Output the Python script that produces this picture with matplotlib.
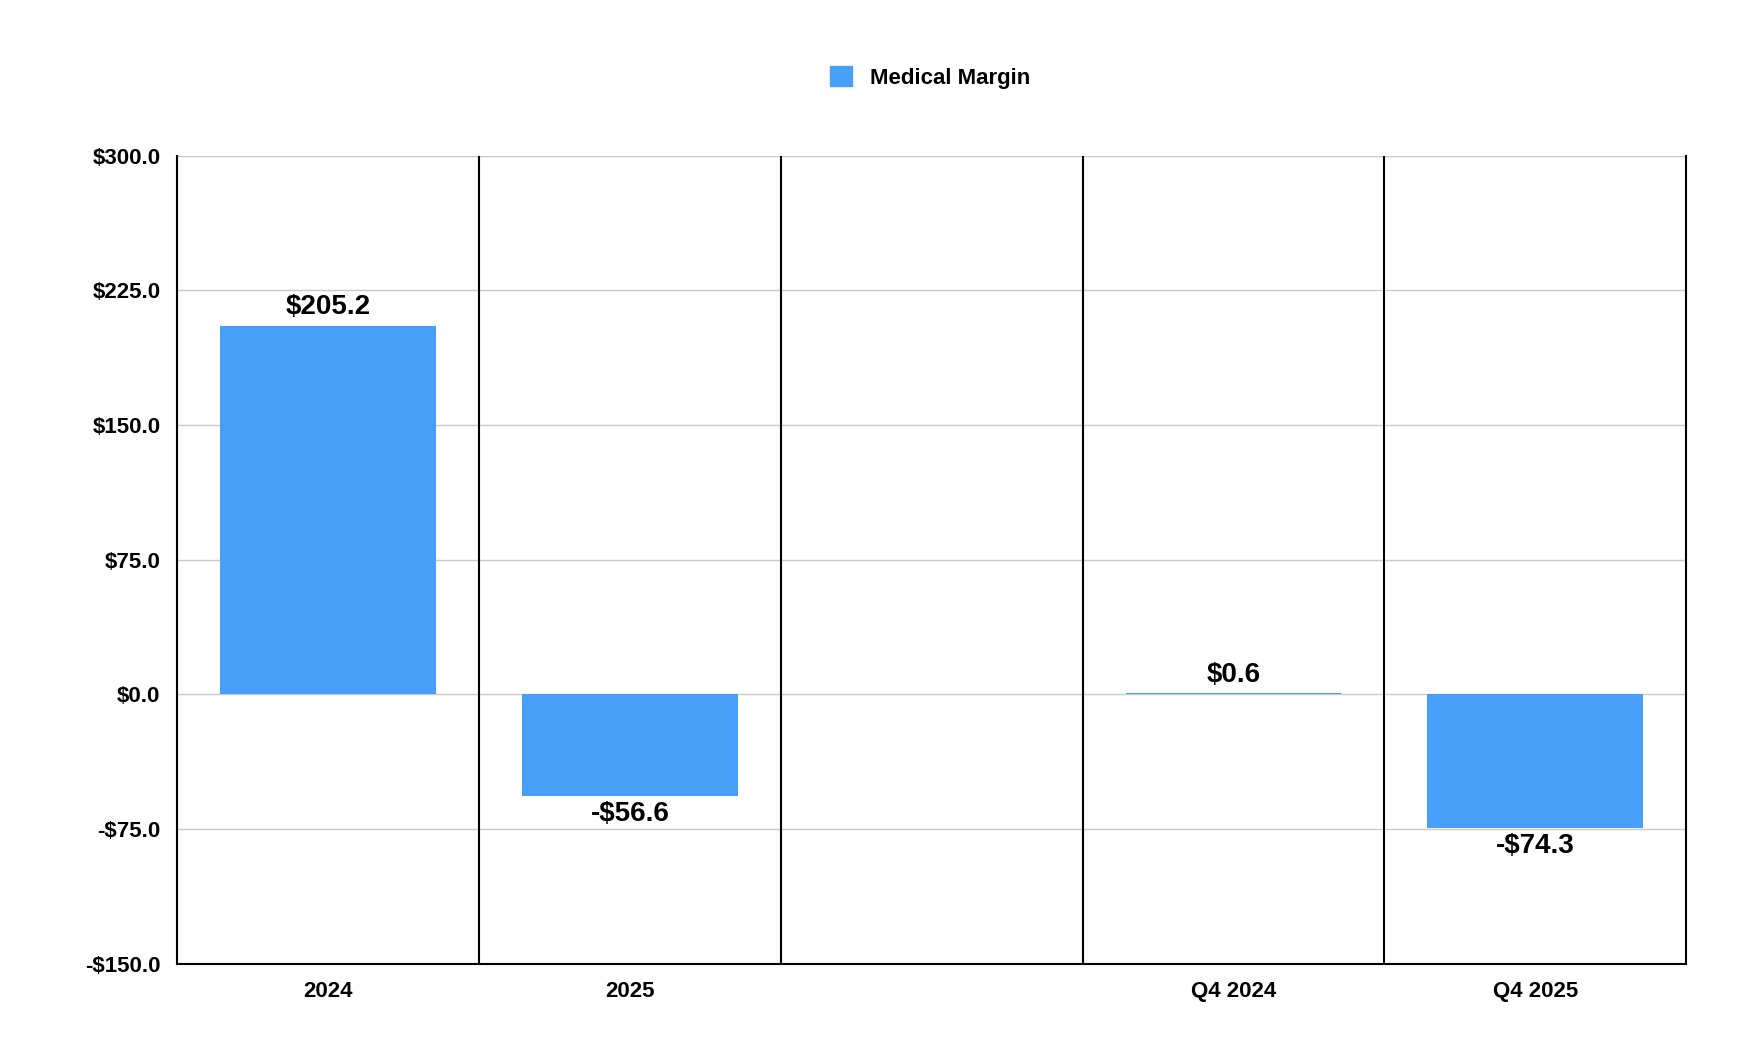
import matplotlib
matplotlib.use("Agg")
import matplotlib.pyplot as plt
import numpy as np

categories = ["2024", "2025", "", "Q4 2024", "Q4 2025"]
values = [205.2, -56.6, None, 0.6, -74.3]
labels = ["$205.2", "-$56.6", "", "$0.6", "-$74.3"]
yticks = [-150, -75, 0, 75, 150, 225, 300]
yticklabels = ["-$150.0", "-$75.0", "$0.0", "$75.0", "$150.0", "$225.0", "$300.0"]

plt.rcParams['font.family'] = ['Liberation Sans', 'DejaVu Sans']
plt.rcParams['font.weight'] = 'bold'
color = "#479ff8"

fig = plt.figure(figsize=(17.62, 10.58), dpi=100)
ax = fig.add_axes([0.1006, 0.089, 0.8564, 0.764])
x = np.arange(len(categories))
for i, v in enumerate(values):
    if v is None:
        continue
    ax.bar(x[i], v, width=0.715, color=color, zorder=3)
    if v >= 0:
        ax.text(x[i], v + 3, labels[i], ha='center', va='bottom', fontsize=20, fontweight='bold')
    else:
        ax.text(x[i], v - 3, labels[i], ha='center', va='top', fontsize=20, fontweight='bold')

ax.set_xlim(-0.5, len(categories) - 0.5)
ax.set_ylim(-150, 300)
ax.set_yticks(yticks)
ax.set_yticklabels(yticklabels, fontsize=16, fontweight='bold')
ax.set_xticks(x)
ax.set_xticklabels(categories, fontsize=16, fontweight='bold')
ax.tick_params(length=0, pad=12)
ax.grid(axis='y', color='#c8c8c8', linewidth=1, zorder=0)
for b in np.arange(0.5, len(categories) - 0.5, 1):
    ax.axvline(b, color='black', linewidth=1.5, zorder=4)
for s in ['left', 'bottom', 'right']:
    ax.spines[s].set_linewidth(1.5)
ax.spines['top'].set_visible(False)

from matplotlib.patches import Patch
fig.legend(handles=[Patch(color=color, label="Medical Margin")], loc='center',
           bbox_to_anchor=(0.528, 0.927), frameon=False, fontsize=16,
           handlelength=1.0, handleheight=1.0)
fig.savefig("out.png", dpi=100)
